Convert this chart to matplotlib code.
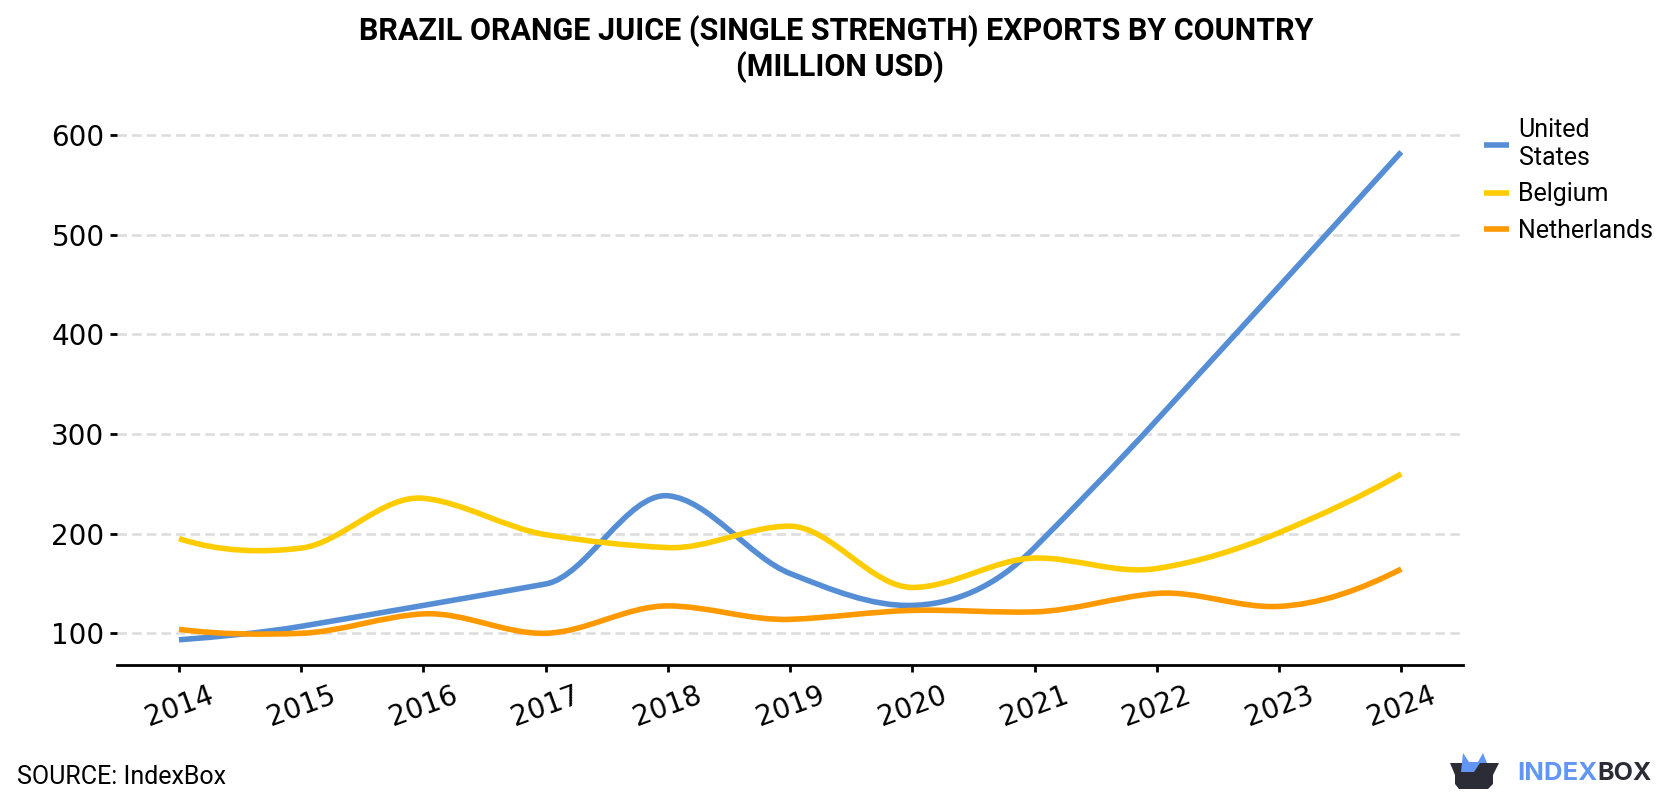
import matplotlib
matplotlib.use("Agg")
from matplotlib import pyplot as plt
from matplotlib.lines import Line2D
from matplotlib.patches import PathPatch, Polygon
from matplotlib.path import Path
import numpy as np

plt.rcParams["font.family"] = ["Roboto", "DejaVu Sans"]

years = [2014, 2015, 2016, 2017, 2018, 2019, 2020, 2021, 2022, 2023, 2024]
united_states = [93.5, 107, 128, 149.5, 238, 160, 128, 186, 314, 448, 583]
belgium = [195, 185.5, 235.5, 199, 186, 207.5, 146, 175.5, 165, 201, 260]
netherlands = [104, 100, 119.5, 100, 127.5, 114, 123, 121.5, 140, 127, 164.5]

series_names = ["United\nStates", "Belgium", "Netherlands"]
series_colors = ["#568ed6", "#ffcc00", "#ff9900"]
y_ticks = [100, 200, 300, 400, 500, 600]


def akima_slopes(x, y):
    """Tangents of an Akima spline, with the usual end extrapolation."""
    m = np.diff(y) / np.diff(x)
    m = np.concatenate((
        [3 * m[0] - 2 * m[1], 2 * m[0] - m[1]],
        m,
        [2 * m[-1] - m[-2], 3 * m[-1] - 2 * m[-2]],
    ))
    w1 = np.abs(m[3:] - m[2:-1])
    w2 = np.abs(m[1:-2] - m[:-3])
    total = w1 + w2
    flat = total < 1e-9
    safe = np.where(flat, 1, total)
    return np.where(flat, (m[1:-2] + m[2:-1]) / 2, (w1 * m[1:-2] + w2 * m[2:-1]) / safe)


def spline_path(x, y):
    """One Bezier segment per year, so the curve passes through every value."""
    x = np.asarray(x, dtype=float)
    y = np.asarray(y, dtype=float)
    t = akima_slopes(x, y)
    verts = [(x[0], y[0])]
    codes = [Path.MOVETO]
    for i in range(len(x) - 1):
        h = (x[i + 1] - x[i]) / 3
        verts += [
            (x[i] + h, y[i] + t[i] * h),
            (x[i + 1] - h, y[i + 1] - t[i + 1] * h),
            (x[i + 1], y[i + 1]),
        ]
        codes += [Path.CURVE4] * 3
    return Path(verts, codes)


fig = plt.figure(figsize=(16.8, 8), dpi=100)
ax = fig.add_axes([117 / 1680, 1 - 664.5 / 800, 1346 / 1680, 559.5 / 800])

ax.set_xlim(2013.493, 2024.505)
ax.set_ylim(68.7, 630.1)

ax.yaxis.grid(True, color="#dddddd", linewidth=1.9, linestyle=(0, (3.6, 1.95)))
ax.set_axisbelow(True)

for values, color in zip([united_states, belgium, netherlands], series_colors):
    ax.add_patch(PathPatch(
        spline_path(years, values),
        facecolor="none",
        edgecolor=color,
        linewidth=4.0,
        capstyle="butt",
        zorder=3,
    ))

for side in ["top", "right", "left"]:
    ax.spines[side].set_visible(False)
ax.spines["bottom"].set_linewidth(2.0)

ax.set_xticks(years)
ax.set_yticks(y_ticks)
ax.tick_params(axis="x", length=5, width=2.0, pad=7)
ax.tick_params(axis="y", length=5, width=2.0, pad=4)
for label in ax.get_xticklabels():
    label.set(fontfamily="DejaVu Sans", fontsize=20, rotation=20, color="black")
for label in ax.get_yticklabels():
    label.set(fontfamily="DejaVu Sans", fontsize=20, color="black")

handles = [Line2D([], [], color=c, linewidth=4.0, solid_capstyle="butt") for c in series_colors]
legend = ax.legend(
    handles,
    series_names,
    loc="upper left",
    frameon=False,
    fontsize=18,
    handlelength=1.0,
    handletextpad=0.38,
    labelspacing=0.5,
    borderpad=0,
    borderaxespad=0,
)
for text in legend.get_texts():
    text.set_linespacing(1.2)
    text.set_color("black")
legend.set_bbox_to_anchor((1484 / 1680, 1 - 118 / 800), transform=fig.transFigure)

# full-figure layer in pixel units for the title, source line and logo
overlay = fig.add_axes([0, 0, 1, 1], facecolor="none")
overlay.set_xlim(0, 1680)
overlay.set_ylim(800, 0)
overlay.axis("off")

overlay.text(836, 31, "BRAZIL ORANGE JUICE (SINGLE STRENGTH) EXPORTS BY COUNTRY",
             ha="center", va="center", fontsize=22, fontweight="bold", color="black")
overlay.text(840, 67, "(MILLION USD)",
             ha="center", va="center", fontsize=22, fontweight="bold", color="black")
overlay.text(17, 777, "SOURCE: IndexBox", ha="left", va="center", fontsize=18, color="black")

box = [(1450, 763), (1499, 763), (1493, 775), (1493, 784), (1488, 789),
       (1459, 789), (1455, 784), (1455, 775)]
flap = [(1461, 772), (1463, 753), (1469, 762), (1478, 762), (1483, 753),
        (1487, 763), (1480, 763), (1474, 772)]
overlay.add_patch(Polygon(box, closed=True, facecolor="#2b2c36", edgecolor="none"))
overlay.add_patch(Polygon(flap, closed=True, facecolor="#6196f5", edgecolor="none"))

overlay.text(1517, 774, "INDEX", ha="left", va="center", fontfamily="Inter", fontsize=18.5, fontweight="bold", color="#6196f5")
overlay.text(1597, 774, "BOX", ha="left", va="center", fontfamily="Inter", fontsize=18, fontweight="bold", color="#2b2c36")

fig.savefig("out.png", dpi=100)
